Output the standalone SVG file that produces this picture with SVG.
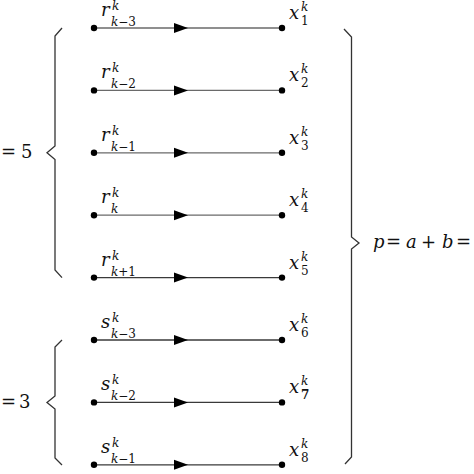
<svg xmlns="http://www.w3.org/2000/svg" width="474" height="474" viewBox="0 0 474 474">
<style>
.bg{fill:#fff}
.ln{stroke:#6a6a6a;stroke-width:1.3;fill:none}
.ln2{stroke:#3a3a3a;stroke-width:1.3;fill:none}
.ah{fill:#000}
.dot{fill:#000}
.br{stroke:#333;stroke-width:1.3;fill:none}
</style>
<rect class="bg" x="0" y="0" width="474" height="474"/>
<defs>
<polygon id="arrow" class="ah" points="-14,-5 0,0 -14,5"/>
</defs>

<g id="connectors">
<line class="ln" x1="94" y1="28" x2="282" y2="28"/>
<line class="ln" x1="94" y1="90.4" x2="282" y2="90.4"/>
<line class="ln" x1="94" y1="152.8" x2="282" y2="152.8"/>
<line class="ln" x1="94" y1="215.2" x2="282" y2="215.2"/>
<line class="ln2" x1="94" y1="277.6" x2="282" y2="277.6"/>
<line class="ln2" x1="94" y1="340" x2="282" y2="340"/>
<line class="ln2" x1="94" y1="402.4" x2="282" y2="402.4"/>
<line class="ln2" x1="94" y1="464.8" x2="282" y2="464.8"/>
<use href="#arrow" x="188" y="28"/>
<use href="#arrow" x="188" y="90.4"/>
<use href="#arrow" x="188" y="152.8"/>
<use href="#arrow" x="188" y="215.2"/>
<use href="#arrow" x="188" y="277.6"/>
<use href="#arrow" x="188" y="340"/>
<use href="#arrow" x="188" y="402.4"/>
<use href="#arrow" x="188" y="464.8"/>
</g>

<g font-family="DejaVu Serif" fill="#111">
<g id="sources">
<g id="r1"><circle class="dot" cx="94" cy="28" r="3.2"/><text font-style="italic" font-size="18" x="101" y="16">r</text><text font-style="italic" font-size="12" x="112" y="10">k</text><text font-style="italic" font-size="12" x="111" y="26">k<tspan font-style="normal">−3</tspan></text></g>
<g id="r2"><circle class="dot" cx="94" cy="90.4" r="3.2"/><text font-style="italic" font-size="18" x="101" y="78.4">r</text><text font-style="italic" font-size="12" x="112" y="72.4">k</text><text font-style="italic" font-size="12" x="111" y="88.4">k<tspan font-style="normal">−2</tspan></text></g>
<g id="r3"><circle class="dot" cx="94" cy="152.8" r="3.2"/><text font-style="italic" font-size="18" x="101" y="140.8">r</text><text font-style="italic" font-size="12" x="112" y="134.8">k</text><text font-style="italic" font-size="12" x="111" y="150.8">k<tspan font-style="normal">−1</tspan></text></g>
<g id="r4"><circle class="dot" cx="94" cy="215.2" r="3.2"/><text font-style="italic" font-size="18" x="101" y="203.2">r</text><text font-style="italic" font-size="12" x="112" y="197.2">k</text><text font-style="italic" font-size="12" x="111" y="213.2">k</text></g>
<g id="r5"><circle class="dot" cx="94" cy="277.6" r="3.2"/><text font-style="italic" font-size="18" x="101" y="265.6">r</text><text font-style="italic" font-size="12" x="112" y="259.6">k</text><text font-style="italic" font-size="12" x="111" y="275.6">k<tspan font-style="normal">+1</tspan></text></g>
<g id="s1"><circle class="dot" cx="94" cy="340" r="3.2"/><text font-style="italic" font-size="18" x="101" y="328">s</text><text font-style="italic" font-size="12" x="112" y="322">k</text><text font-style="italic" font-size="12" x="111" y="338">k<tspan font-style="normal">−3</tspan></text></g>
<g id="s2"><circle class="dot" cx="94" cy="402.4" r="3.2"/><text font-style="italic" font-size="18" x="101" y="390.4">s</text><text font-style="italic" font-size="12" x="112" y="384.4">k</text><text font-style="italic" font-size="12" x="111" y="400.4">k<tspan font-style="normal">−2</tspan></text></g>
<g id="s3"><circle class="dot" cx="94" cy="464.8" r="3.2"/><text font-style="italic" font-size="18" x="101" y="452.8">s</text><text font-style="italic" font-size="12" x="112" y="446.8">k</text><text font-style="italic" font-size="12" x="111" y="462.8">k<tspan font-style="normal">−1</tspan></text></g>
</g>

<g id="targets">
<g id="x1"><circle class="dot" cx="282" cy="28" r="3.2"/><text font-style="italic" font-size="18" x="289" y="19">x</text><text font-style="italic" font-size="12" x="301" y="11">k</text><text font-size="12" x="301" y="25">1</text></g>
<g id="x2"><circle class="dot" cx="282" cy="90.4" r="3.2"/><text font-style="italic" font-size="18" x="289" y="81.4">x</text><text font-style="italic" font-size="12" x="301" y="73.4">k</text><text font-size="12" x="301" y="87.4">2</text></g>
<g id="x3"><circle class="dot" cx="282" cy="152.8" r="3.2"/><text font-style="italic" font-size="18" x="289" y="143.8">x</text><text font-style="italic" font-size="12" x="301" y="135.8">k</text><text font-size="12" x="301" y="149.8">3</text></g>
<g id="x4"><circle class="dot" cx="282" cy="215.2" r="3.2"/><text font-style="italic" font-size="18" x="289" y="206.2">x</text><text font-style="italic" font-size="12" x="301" y="198.2">k</text><text font-size="12" x="301" y="212.2">4</text></g>
<g id="x5"><circle class="dot" cx="282" cy="277.6" r="3.2"/><text font-style="italic" font-size="18" x="289" y="268.6">x</text><text font-style="italic" font-size="12" x="301" y="260.6">k</text><text font-size="12" x="301" y="274.6">5</text></g>
<g id="x6"><circle class="dot" cx="282" cy="340" r="3.2"/><text font-style="italic" font-size="18" x="289" y="331">x</text><text font-style="italic" font-size="12" x="301" y="323">k</text><text font-size="12" x="301" y="337">6</text></g>
<g id="x7"><circle class="dot" cx="282" cy="402.4" r="3.2"/><text font-style="italic" font-size="18" x="289" y="393.4">x</text><text font-style="italic" font-size="12" x="301" y="385.4">k</text><text font-size="12" x="301" y="399.4" font-weight="bold">7</text></g>
<g id="x8"><circle class="dot" cx="282" cy="464.8" r="3.2"/><text font-style="italic" font-size="18" x="289" y="455.8">x</text><text font-style="italic" font-size="12" x="301" y="447.8">k</text><text font-size="12" x="301" y="461.8">8</text></g>
</g>

<g id="labels" font-size="18">
<text x="16" y="158" text-anchor="end">=</text>
<text x="21" y="158">5</text>
<text x="16" y="408" text-anchor="end">=</text>
<text x="19" y="408">3</text>
<text y="248"><tspan x="373" font-style="italic">p</tspan><tspan x="386">=</tspan><tspan x="406" font-style="italic">a</tspan><tspan x="421">+</tspan><tspan x="442" font-style="italic">b</tspan><tspan x="456">=</tspan></text>
</g>
</g>

<g id="braces">
<polyline class="br" points="62,28 55,36 55,146 47,152.8 55,159.5 55,270 62,277.6"/>
<polyline class="br" points="62,340 55,347 55,396 47,402.4 55,409 55,458 62,465"/>
<polyline class="br" points="344,29 351.5,37 351.5,237 359,243 351.5,249 351.5,457 345,464"/>
</g>
</svg>
